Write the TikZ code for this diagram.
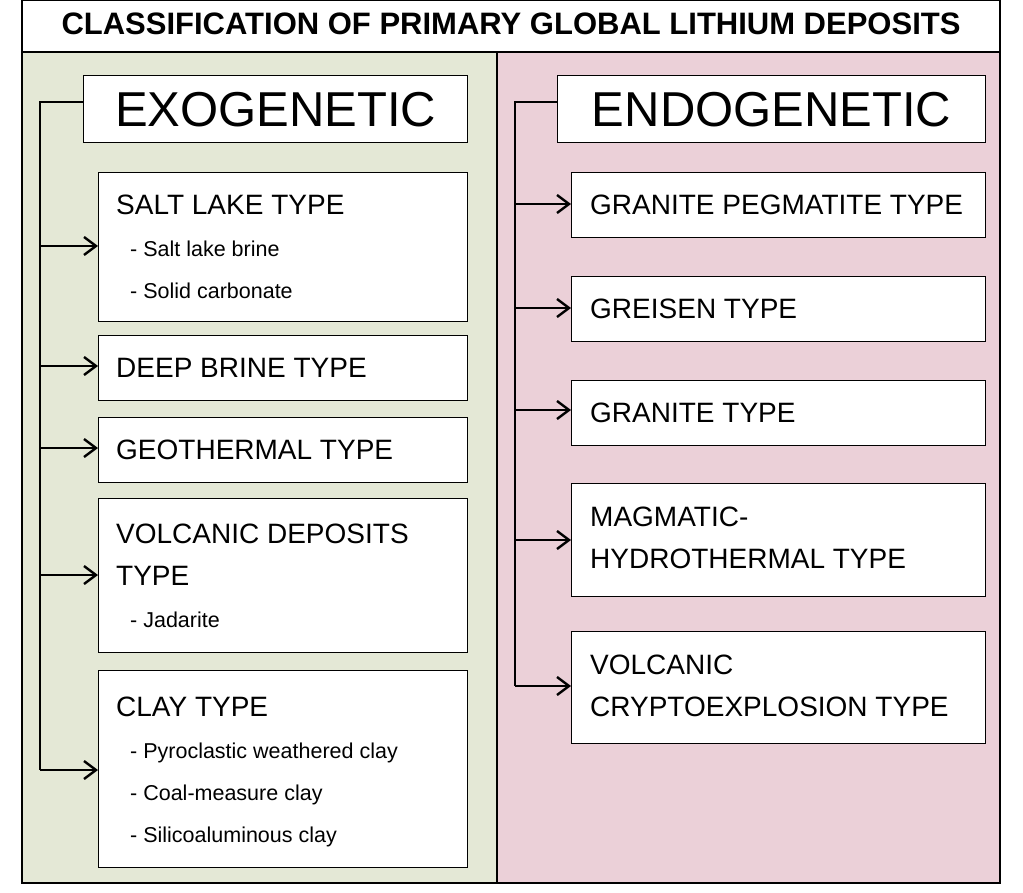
\documentclass[tikz,border=0pt]{standalone}
\usepackage{fontspec}
\setmainfont{Liberation Sans}
\usetikzlibrary{arrows.meta}
\definecolor{greenbg}{HTML}{E4E8D6}
\definecolor{pinkbg}{HTML}{EBD0D8}
\newcommand{\subline}[1]{{\fontsize{21.5}{41}\selectfont\hspace*{14pt}#1}}
\begin{document}
\begin{tikzpicture}[x=1pt,y=-1pt,
  box/.style={draw=black,line width=1.3pt,fill=white,anchor=north west,inner sep=0pt},
  lbl/.style={anchor=west,align=left,inner sep=0pt,font=\fontsize{28}{42}\selectfont},
  head/.style={draw=black,line width=1.3pt,fill=white,anchor=north west,inner sep=0pt,font=\fontsize{49}{52}\selectfont},
  conn/.style={line width=1.6pt},
  arr/.style={line width=1.6pt,-{Straight Barb[length=12pt,width=18pt,line width=2.4pt]}}]
\useasboundingbox (0,0) rectangle (1023,893);
\fill[white] (0,0) rectangle (1023,893);
\fill[greenbg] (22,52) rectangle (497,883);
\fill[pinkbg] (497,52) rectangle (1000,883);
\draw[line width=1.5pt] (22,0) rectangle (1000,883);
\draw[line width=1.5pt] (22,52) -- (1000,52);
\draw[line width=1.3pt] (497,52) -- (497,883);
\node[font=\fontsize{31}{34}\bfseries\selectfont] (title) at (511,24) {CLASSIFICATION OF PRIMARY GLOBAL LITHIUM DEPOSITS};
% left
\node[head,minimum width=384pt,minimum height=67pt] (exo) at (83,75) {EXOGENETIC};
\node[box,minimum width=369pt,minimum height=149pt] (salt) at (98,172) {};
\node[lbl] (saltt) at ([xshift=18pt]salt.west) {SALT LAKE TYPE\\\subline{- Salt lake brine}\\\subline{- Solid carbonate}};
\node[box,minimum width=369pt,minimum height=65pt] (deep) at (98,335) {};
\node[lbl] (deept) at ([xshift=18pt]deep.west) {DEEP BRINE TYPE};
\node[box,minimum width=369pt,minimum height=65pt] (geo) at (98,417) {};
\node[lbl] (geot) at ([xshift=18pt]geo.west) {GEOTHERMAL TYPE};
\node[box,minimum width=369pt,minimum height=154pt] (volc) at (98,498) {};
\node[lbl] (volct) at ([xshift=18pt]volc.west) {VOLCANIC DEPOSITS\\TYPE\\\subline{- Jadarite}};
\node[box,minimum width=369pt,minimum height=197pt] (clay) at (98,670) {};
\node[lbl] (clayt) at ([xshift=18pt,yshift=-3pt]clay.west) {CLAY TYPE\\\subline{- Pyroclastic weathered clay}\\\subline{- Coal-measure clay}\\\subline{- Silicoaluminous clay}};
\coordinate (lt) at (40,102);
\coordinate (lb) at (40,770);
\draw[conn] (exo.west |- lt) -- (lt) -- (lb);
\draw[arr] (40,246) -- (salt.west |- 0,246);
\draw[arr] (40,366) -- (deep.west |- 0,366);
\draw[arr] (40,448) -- (geo.west |- 0,448);
\draw[arr] (40,575) -- (volc.west |- 0,575);
\draw[arr] (lb) -- (clay.west |- lb);
% right
\node[head,minimum width=428pt,minimum height=67pt] (endo) at (557,75) {ENDOGENETIC};
\node[box,minimum width=414pt,minimum height=65pt] (gp) at (571,172) {};
\node[lbl] (gpt) at ([xshift=19pt]gp.west) {GRANITE PEGMATITE TYPE};
\node[box,minimum width=414pt,minimum height=65pt] (gr) at (571,276) {};
\node[lbl] (grt) at ([xshift=19pt]gr.west) {GREISEN TYPE};
\node[box,minimum width=414pt,minimum height=65pt] (gt) at (571,380) {};
\node[lbl] (gtt) at ([xshift=19pt]gt.west) {GRANITE TYPE};
\node[box,minimum width=414pt,minimum height=113pt] (mh) at (571,483) {};
\node[lbl] (mht) at ([xshift=19pt,yshift=2pt]mh.west) {MAGMATIC-\\HYDROTHERMAL TYPE};
\node[box,minimum width=414pt,minimum height=112pt] (vc) at (571,631) {};
\node[lbl] (vct) at ([xshift=19pt,yshift=2pt]vc.west) {VOLCANIC\\CRYPTOEXPLOSION TYPE};
\coordinate (rt) at (515,102);
\coordinate (rb) at (515,686);
\draw[conn] (endo.west |- rt) -- (rt) -- (rb);
\draw[arr] (515,204) -- (gp.west |- 0,204);
\draw[arr] (515,308) -- (gr.west |- 0,308);
\draw[arr] (515,410) -- (gt.west |- 0,410);
\draw[arr] (515,540) -- (mh.west |- 0,540);
\draw[arr] (rb) -- (vc.west |- rb);
\end{tikzpicture}
\end{document}
